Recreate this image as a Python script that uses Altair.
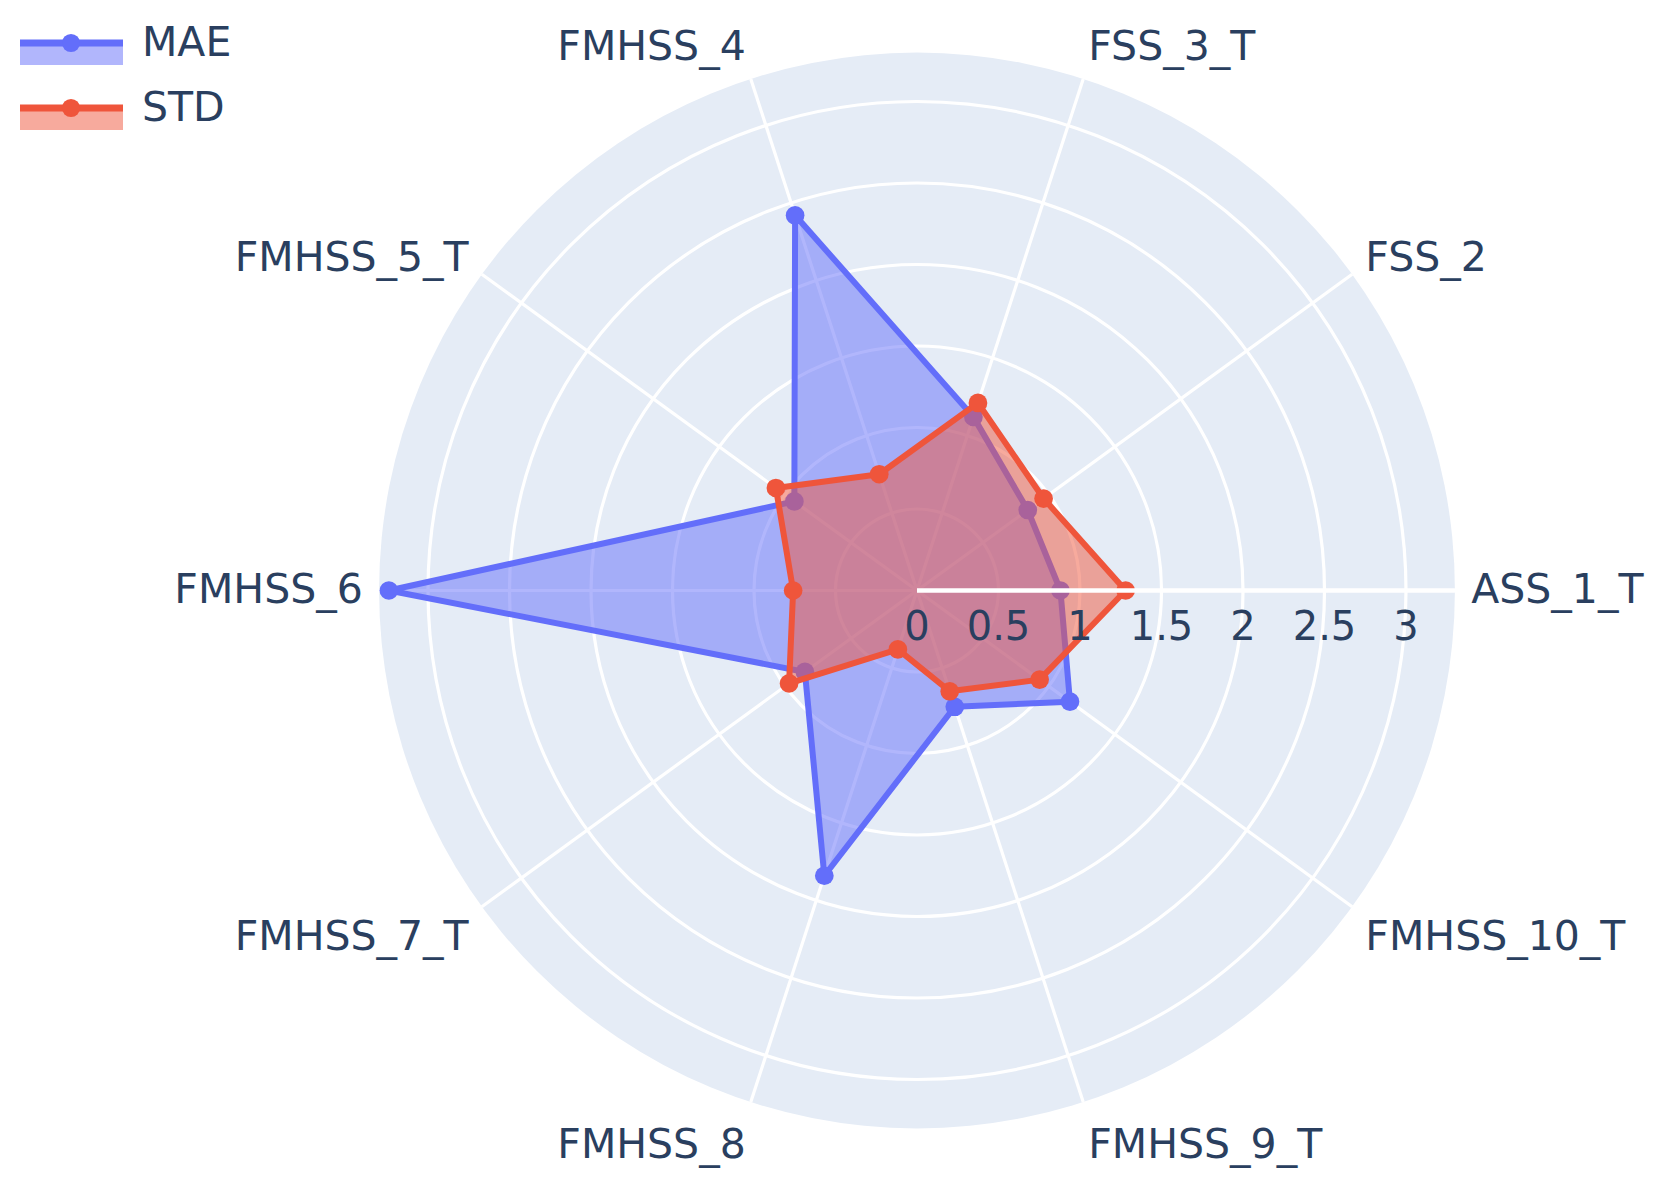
import altair as alt
import pandas as pd

# ---------------- data ----------------
categories = ["ASS_1_T", "FSS_2", "FSS_3_T", "FMHSS_4", "FMHSS_5_T",
              "FMHSS_6", "FMHSS_7_T", "FMHSS_8", "FMHSS_9_T", "FMHSS_10_T"]
mae = [0.88, 0.84, 1.12, 2.42, 0.93, 3.24, 0.85, 1.84, 0.75, 1.16]
std = [1.28, 0.96, 1.21, 0.75, 1.07, 0.76, 0.97, 0.38, 0.65, 0.93]
series_names = ["MAE", "STD"]
series_colors = ["#636EFA", "#EF553B"]
radial_ticks = [0, 0.5, 1, 1.5, 2, 2.5, 3]
radial_tick_labels = ["0", "0.5", "1", "1.5", "2", "2.5", "3"]
radial_max = 3.3

# ---------------- layout / style ----------------
W, H = 1650, 1170
CX, CY = 909, 582.5      # polar centre inside the plot area (px)
U = 163                  # px per radial unit
FONT = "DejaVu Sans"
TXT = "#2a3f5f"
BG = "#E5ECF6"
N = len(categories)

xscale = alt.Scale(domain=[-CX / U, (W - CX) / U], nice=False, zero=False)
yscale = alt.Scale(domain=[-(H - CY) / U, CY / U], nice=False, zero=False)
rscale = alt.Scale(type="linear", domain=[0, 1], range=[0, U], zero=True)


def X(f):
    return alt.X(f, type="quantitative", scale=xscale, axis=None)


def Y(f):
    return alt.Y(f, type="quantitative", scale=yscale, axis=None)


def R(f):
    return alt.Radius(f, type="quantitative", scale=rscale, stack=False)


ANG = f"datum.idx * 2 * PI / {N}"

# tables built from the arrays
rows = []
for s, vals in zip(series_names, [mae, std]):
    for i, (c, v) in enumerate(zip(categories, vals)):
        rows.append({"series": s, "category": c, "idx": i, "value": v})
df = pd.DataFrame(rows)
cat_df = pd.DataFrame({"category": categories, "idx": list(range(N))})
grid_df = pd.DataFrame({"r": radial_ticks[1:]})
tick_df = pd.DataFrame({"v": radial_ticks, "label": radial_tick_labels})
disc_df = pd.DataFrame({"r": [radial_max]})

layers = []

# background disc
layers.append(
    alt.Chart(disc_df).transform_calculate(z="0").mark_arc(
        theta=0, theta2=6.2832, color=BG
    ).encode(x=X("z"), y=Y("z"), radius=R("r"))
)
# grid circles
layers.append(
    alt.Chart(grid_df).transform_calculate(z="0").mark_arc(
        theta=0, theta2=6.2832, filled=False, color="white", strokeWidth=3.2
    ).encode(x=X("z"), y=Y("z"), radius=R("r"))
)
# spokes
layers.append(
    alt.Chart(cat_df).transform_calculate(
        ang=ANG, z="0",
        sx=f"{radial_max} * cos(datum.ang)", sy=f"{radial_max} * sin(datum.ang)"
    ).mark_rule(color="white", strokeWidth=3.2).encode(
        x=X("z"), y=Y("z"), x2="sx:Q", y2="sy:Q"
    )
)

# series
polar = alt.Chart(df).transform_calculate(
    ang=ANG,
    px="datum.value * cos(datum.ang)",
    py="datum.value * sin(datum.ang)",
)
for s, col in zip(series_names, series_colors):
    sub = polar.transform_filter(alt.datum.series == s)
    layers.append(
        sub.mark_line(
            interpolate="linear-closed", fill=col, fillOpacity=0.5,
            stroke=col, strokeWidth=6, strokeJoin="round"
        ).encode(x=X("px"), y=Y("py"), order="idx:Q")
    )
    layers.append(
        sub.mark_circle(size=350, color=col, opacity=1).encode(
            x=X("px"), y=Y("py")
        )
    )

# radial axis line (above traces)
layers.append(
    alt.Chart(disc_df).transform_calculate(z="0").mark_rule(
        color="white", strokeWidth=4.5
    ).encode(x=X("z"), x2="r:Q", y=Y("z"))
)
# radial tick labels
layers.append(
    alt.Chart(tick_df).transform_calculate(z="0").mark_text(
        dy=37, fontSize=40, font=FONT, color=TXT, align="center", baseline="middle"
    ).encode(x=X("v"), y=Y("z"), text="label:N")
)

# angular labels
lab = alt.Chart(cat_df).transform_calculate(
    ang=ANG,
    s="sin(datum.ang)",
    c="cos(datum.ang)",
).transform_calculate(
    lx=f"({radial_max} + 0.1) * datum.c",
    ly=(f"{radial_max} * datum.s + (abs(datum.s) < 0.01 ? 0 : "
        f"(datum.s > 0 ? (44 * datum.s - 11) : (36 * datum.s - 10))) / {U}"),
)
layers.append(
    lab.transform_filter("datum.c > 0").mark_text(
        fontSize=41, font=FONT, color=TXT, align="left", baseline="middle"
    ).encode(x=X("lx"), y=Y("ly"), text="category:N")
)
layers.append(
    lab.transform_filter("datum.c <= 0").mark_text(
        fontSize=41, font=FONT, color=TXT, align="right", baseline="middle"
    ).encode(x=X("lx"), y=Y("ly"), text="category:N")
)

# legend
for i, (s, col) in enumerate(zip(series_names, series_colors)):
    ldf = pd.DataFrame({"series": [s]})
    off = 65 * i
    base = alt.Chart(ldf)
    layers.append(base.mark_rect(color=col, opacity=0.5).encode(
        x=alt.value(12), x2=alt.value(115), y=alt.value(33 + off), y2=alt.value(57 + off)))
    layers.append(base.mark_rule(color=col, strokeWidth=7).encode(
        x=alt.value(12), x2=alt.value(115), y=alt.value(35 + off)))
    layers.append(base.mark_circle(color=col, size=330, opacity=1).encode(
        x=alt.value(63), y=alt.value(35 + off)))
    layers.append(base.mark_text(
        fontSize=41, font=FONT, color=TXT, align="left", baseline="middle"
    ).encode(x=alt.value(134), y=alt.value(36 + off), text="series:N"))

chart = alt.layer(*layers).properties(
    width=W, height=H, padding=0,
    autosize=alt.AutoSizeParams(type="none"),
    background="white",
).configure_view(strokeWidth=0)

chart.save("out.html", embed_options={"renderer": "svg", "actions": False})
